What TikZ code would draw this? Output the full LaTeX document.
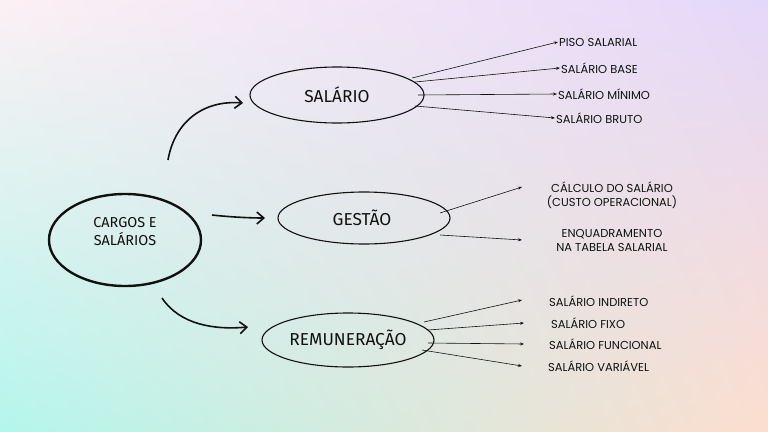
\documentclass[tikz,border=0pt]{standalone}
\usepackage{fontspec}
\setmainfont{Poppins}
\newfontfamily\titlefont{Fira Sans}
\usetikzlibrary{arrows.meta,shadings}
\definecolor{ink}{HTML}{111111}
\definecolor{bgul}{RGB}{252,240,244}
\definecolor{bgur}{RGB}{228,216,250}
\definecolor{bgll}{RGB}{180,246,236}
\definecolor{bglr}{RGB}{252,222,206}
\tikzset{
 lf/.style={font=\fontsize{11.5}{14}\selectfont,text=ink,inner sep=1pt},
 leaf/.style={lf,anchor=west},
 twig/.style={draw=ink,line width=0.6pt,-{Stealth[length=4pt]}},
 bigarrow/.style={draw=ink,line width=1.6pt,-{Straight Barb[length=7pt,width=12pt]}}
}
\begin{document}
\begin{tikzpicture}[x=1pt,y=-1pt]
\useasboundingbox (0,0) rectangle (768,431);
\shade[upper left=bgul,upper right=bgur,lower left=bgll,lower right=bglr] (0,0) rectangle (768,431);
% central
\draw[ink,line width=2.4pt] (125,240) ellipse [x radius=76,y radius=46];
\node[font=\titlefont\Large,text=ink,align=center] (c) at (125,232) {CARGOS E\\SALÁRIOS};
% topics
\draw[ink,line width=1.1pt] (337,95) ellipse [x radius=87,y radius=28];
\node[font=\titlefont\LARGE,text=ink] (s) at (337,95) {SALÁRIO};
\draw[ink,line width=1.1pt] (364,218) ellipse [x radius=86,y radius=26];
\node[font=\titlefont\LARGE,text=ink] (g) at (362,218) {GESTÃO};
\draw[ink,line width=1.1pt] (348,340) ellipse [x radius=86,y radius=27];
\node[font=\titlefont\LARGE,text=ink] (r) at (348,340) {REMUNERAÇÃO};
% big arrows
\coordinate (a1) at (168,160); \coordinate (b1) at (243,103);
\draw[bigarrow] (a1) .. controls (175,120) and (205,100) .. (b1);
\coordinate (a2) at (212,215); \coordinate (b2) at (265,218);
\draw[bigarrow] (a2) .. controls (230,217) and (250,218) .. (b2);
\coordinate (a3) at (162,298); \coordinate (b3) at (248,327);
\draw[bigarrow] (a3) .. controls (180,325) and (215,330) .. (b3);
% leaves salario
\node[leaf] (s1) at (558,42) {PISO SALARIAL};
\node[leaf] (s2) at (560,68) {SALÁRIO BASE};
\node[leaf] (s3) at (557,94) {SALÁRIO MÍNIMO};
\node[leaf] (s4) at (555,118) {SALÁRIO BRUTO};
\coordinate (p1) at (412,78); \coordinate (p2) at (415,82); \coordinate (p3) at (418,95); \coordinate (p4) at (415,106);
\draw[twig] (p1) -- (s1.west); \draw[twig] (p2) -- (s2.west);
\draw[twig] (p3) -- (s3.west); \draw[twig] (p4) -- (s4.west);
% leaves gestao
\node[lf,align=center] (g1) at (612,195) {CÁLCULO DO SALÁRIO\\(CUSTO OPERACIONAL)};
\node[lf,align=center] (g2) at (612,240) {ENQUADRAMENTO\\NA TABELA SALARIAL};
\coordinate (q1) at (440,213); \coordinate (q2) at (440,235);
\coordinate (e1) at (522,187); \coordinate (e2) at (522,240);
\draw[twig] (q1) -- (e1); \draw[twig] (q2) -- (e2);
% leaves remuneracao
\node[leaf] (r1) at (548,301) {SALÁRIO INDIRETO};
\node[leaf] (r2) at (550,323) {SALÁRIO FIXO};
\node[leaf] (r3) at (548,344) {SALÁRIO FUNCIONAL};
\node[leaf] (r4) at (547,366) {SALÁRIO VARIÁVEL};
\coordinate (t1) at (424,322); \coordinate (t2) at (428,330); \coordinate (t3) at (428,343); \coordinate (t4) at (422,350);
\coordinate (u1) at (522,300); \coordinate (u2) at (524,323); \coordinate (u3) at (524,344); \coordinate (u4) at (522,366);
\draw[twig] (t1) -- (u1); \draw[twig] (t2) -- (u2);
\draw[twig] (t3) -- (u3); \draw[twig] (t4) -- (u4);
\end{tikzpicture}
\end{document}
